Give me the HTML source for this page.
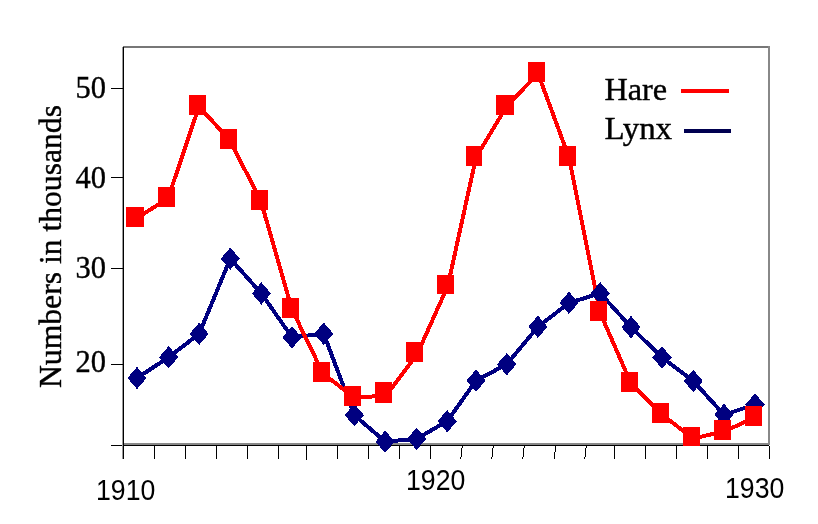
<!DOCTYPE html>
<html><head><meta charset="utf-8"><title>Hare and Lynx</title>
<style>
html,body{margin:0;padding:0;background:#fff;}
body{width:818px;height:524px;overflow:hidden;}
svg{display:block;}
.s{font-family:"Liberation Serif",serif;font-size:32px;fill:#000;stroke:#000;stroke-width:0.4px;}
.l{font-family:"Liberation Serif",serif;font-size:32px;fill:#000;stroke:#000;stroke-width:0.4px;}
.a{font-family:"Liberation Sans",sans-serif;font-size:29px;fill:#000;}
</style></head><body>
<svg width="818" height="524" viewBox="0 0 818 524">
<rect width="818" height="524" fill="#fff"/>
<g shape-rendering="crispEdges">
<rect x="123" y="46" width="647" height="2" fill="#777"/>
<rect x="768" y="46" width="2" height="399" fill="#888"/>
<rect x="124" y="443" width="646" height="2" fill="#888"/>
<rect x="111" y="445" width="658" height="1" fill="#000"/>
<rect x="122" y="47" width="1" height="412" fill="#999"/>
<rect x="123" y="47" width="1" height="412" fill="#000"/>

<rect x="154.0" y="446" width="1" height="13" fill="#000"/>
<rect x="185.0" y="446" width="1" height="13" fill="#000"/>
<rect x="216.0" y="446" width="1" height="13" fill="#000"/>
<rect x="247.0" y="446" width="1" height="13" fill="#000"/>
<rect x="277.5" y="446" width="1" height="13" fill="#000"/>
<rect x="306.0" y="446" width="1" height="14" fill="#000"/>
<rect x="337.0" y="446" width="1" height="13" fill="#000"/>
<rect x="368.0" y="446" width="1" height="13" fill="#000"/>
<rect x="399.0" y="446" width="1" height="13" fill="#000"/>
<rect x="429.5" y="446" width="1" height="13" fill="#000"/>
<polygon points="461.7,446 462.7,446 461.3,459 460.3,459" fill="#000"/>
<polygon points="492.7,446 493.7,446 492.3,459 491.3,459" fill="#000"/>
<polygon points="523.7,446 524.7,446 523.3,459 522.3,459" fill="#000"/>
<polygon points="555.2,446 556.2,446 554.8,459 553.8,459" fill="#000"/>
<polygon points="585.7,446 586.7,446 585.3,459 584.3,459" fill="#000"/>
<rect x="613.5" y="446" width="1" height="13" fill="#000"/>
<rect x="644.5" y="446" width="1" height="13" fill="#000"/>
<rect x="676.0" y="446" width="1" height="13" fill="#000"/>
<rect x="707.0" y="446" width="1" height="13" fill="#000"/>
<rect x="738.0" y="446" width="1" height="13" fill="#000"/>
<rect x="769.0" y="446" width="1" height="13" fill="#000"/>
<rect x="111" y="88.0" width="12" height="1" fill="#000"/>
<rect x="111" y="177.0" width="12" height="1" fill="#000"/>
<rect x="111" y="268.0" width="12" height="1" fill="#000"/>
<rect x="111" y="364.0" width="12" height="1" fill="#000"/>
</g>
<text class="s" x="75.5" y="98.2" textLength="30.5" lengthAdjust="spacingAndGlyphs">50</text>
<text class="s" x="75.5" y="187.9" textLength="30.5" lengthAdjust="spacingAndGlyphs">40</text>
<text class="s" x="75.5" y="278" textLength="30.5" lengthAdjust="spacingAndGlyphs">30</text>
<text class="s" x="75.5" y="372" textLength="30.5" lengthAdjust="spacingAndGlyphs">20</text>
<text class="l" transform="translate(61,388) rotate(-90)" textLength="283" lengthAdjust="spacingAndGlyphs">Numbers in thousands</text>
<text class="l" x="604.4" y="100" textLength="62.8" lengthAdjust="spacingAndGlyphs">Hare</text>
<text class="l" x="604.4" y="139.2" textLength="67.7" lengthAdjust="spacingAndGlyphs">Lynx</text>
<text class="a" x="96.0" y="499.7" textLength="59.3" lengthAdjust="spacingAndGlyphs">1910</text>
<text class="a" x="406.0" y="489.6" textLength="59.3" lengthAdjust="spacingAndGlyphs">1920</text>
<text class="a" x="725.0" y="497.5" textLength="59.3" lengthAdjust="spacingAndGlyphs">1930</text>
<g shape-rendering="crispEdges">
<rect x="681" y="89" width="48" height="4" fill="#f00"/>
<rect x="684" y="129" width="47" height="4" fill="#000050"/>
</g>
<g shape-rendering="crispEdges">
<polyline fill="none" stroke="#000080" stroke-width="4" stroke-linejoin="round" points="137,378 168.6,357.3 199.1,333.9 230.3,258.7 261.4,293.5 292,337.3 323.7,333.7 354.3,415.1 385.1,441.7 416.6,438.8 447.2,421.2 476,380.7 506.8,364.2 537.9,326.8 569,302.9 600.2,293.3 631,327.1 662,357.5 693.3,381 724,414.8 755,404.6"/>
<polyline fill="none" stroke="#ff0000" stroke-width="4" stroke-linejoin="round" points="136,218.5 168,198.5 199,106.5 230,140.5 261,201.5 292,309.5 323,373.5 354,397.5 386,395.7 417.2,354 447.8,286 476,157.5 506.5,106.5 538,73.5 569,157.5 600,312.5 631,383.5 662,414.5 693,438.5 724,431.5 755,417.5"/>
<polygon fill="#000080" points="137.0,366.8 146.6,378.0 137.0,389.2 127.4,378.0"/>
<polygon fill="#000080" points="168.6,346.1 178.2,357.3 168.6,368.5 159.0,357.3"/>
<polygon fill="#000080" points="199.1,322.7 208.7,333.9 199.1,345.1 189.5,333.9"/>
<polygon fill="#000080" points="230.3,247.5 239.9,258.7 230.3,269.9 220.7,258.7"/>
<polygon fill="#000080" points="261.4,282.3 271.0,293.5 261.4,304.7 251.8,293.5"/>
<polygon fill="#000080" points="292.0,326.1 301.6,337.3 292.0,348.5 282.4,337.3"/>
<polygon fill="#000080" points="323.7,322.5 333.3,333.7 323.7,344.9 314.1,333.7"/>
<polygon fill="#000080" points="354.3,403.9 363.9,415.1 354.3,426.3 344.7,415.1"/>
<polygon fill="#000080" points="385.1,430.5 394.7,441.7 385.1,452.9 375.5,441.7"/>
<polygon fill="#000080" points="416.6,427.6 426.2,438.8 416.6,450.0 407.0,438.8"/>
<polygon fill="#000080" points="447.2,410.0 456.8,421.2 447.2,432.4 437.6,421.2"/>
<polygon fill="#000080" points="476.0,369.5 485.6,380.7 476.0,391.9 466.4,380.7"/>
<polygon fill="#000080" points="506.8,353.0 516.4,364.2 506.8,375.4 497.2,364.2"/>
<polygon fill="#000080" points="537.9,315.6 547.5,326.8 537.9,338.0 528.3,326.8"/>
<polygon fill="#000080" points="569.0,291.7 578.6,302.9 569.0,314.1 559.4,302.9"/>
<polygon fill="#000080" points="600.2,282.1 609.8,293.3 600.2,304.5 590.6,293.3"/>
<polygon fill="#000080" points="631.0,315.9 640.6,327.1 631.0,338.3 621.4,327.1"/>
<polygon fill="#000080" points="662.0,346.3 671.6,357.5 662.0,368.7 652.4,357.5"/>
<polygon fill="#000080" points="693.3,369.8 702.9,381.0 693.3,392.2 683.7,381.0"/>
<polygon fill="#000080" points="724.0,403.6 733.6,414.8 724.0,426.0 714.4,414.8"/>
<polygon fill="#000080" points="755.0,393.4 764.6,404.6 755.0,415.8 745.4,404.6"/>
<rect fill="#ff0000" x="126" y="207" width="18" height="20"/>
<rect fill="#ff0000" x="158" y="187" width="17" height="20"/>
<rect fill="#ff0000" x="189" y="95" width="17" height="20"/>
<rect fill="#ff0000" x="220" y="129" width="17" height="20"/>
<rect fill="#ff0000" x="251" y="190" width="17" height="20"/>
<rect fill="#ff0000" x="282" y="298" width="17" height="20"/>
<rect fill="#ff0000" x="313" y="362" width="17" height="20"/>
<rect fill="#ff0000" x="344" y="386" width="17" height="20"/>
<rect fill="#ff0000" x="375" y="382" width="17" height="21"/>
<rect fill="#ff0000" x="406" y="342" width="17" height="20"/>
<rect fill="#ff0000" x="437" y="275" width="17" height="19"/>
<rect fill="#ff0000" x="466" y="146" width="16" height="20"/>
<rect fill="#ff0000" x="496" y="95" width="18" height="20"/>
<rect fill="#ff0000" x="528" y="62" width="17" height="20"/>
<rect fill="#ff0000" x="559" y="146" width="17" height="20"/>
<rect fill="#ff0000" x="590" y="301" width="17" height="20"/>
<rect fill="#ff0000" x="621" y="372" width="17" height="20"/>
<rect fill="#ff0000" x="652" y="403" width="17" height="20"/>
<rect fill="#ff0000" x="683" y="427" width="17" height="19"/>
<rect fill="#ff0000" x="714" y="420" width="17" height="20"/>
<rect fill="#ff0000" x="745" y="406" width="17" height="20"/>
</g>
</svg></body></html>
